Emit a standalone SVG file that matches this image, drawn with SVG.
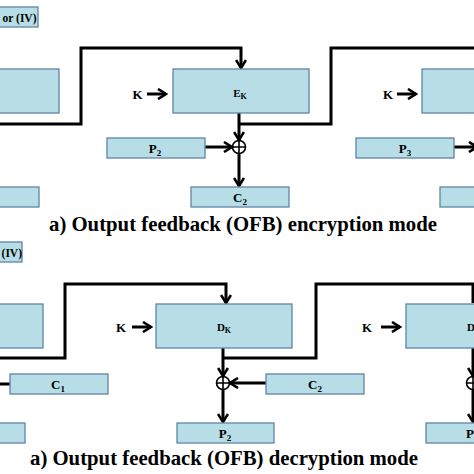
<svg xmlns="http://www.w3.org/2000/svg" width="474" height="474" viewBox="0 0 474 474">
<defs>
<style>
.box{fill:#b7dde6;stroke:#5f84a8;stroke-width:1.3}
.ln{fill:none;stroke:#000;stroke-width:3}
.arr{fill:none;stroke:#000;stroke-width:3;marker-end:url(#ah)}
.xor{fill:none;stroke:#000;stroke-width:1.6}
.lbl{font-family:"Liberation Serif","Times New Roman",serif;font-weight:bold;font-size:13px;text-anchor:middle;fill:#000}
.iv{font-family:"Liberation Serif","Times New Roman",serif;font-weight:bold;font-size:11.5px;text-anchor:end;fill:#000}
.blk{font-family:"Liberation Serif","Times New Roman",serif;font-weight:bold;font-size:11px;text-anchor:middle;fill:#000}
.k{font-family:"Liberation Serif","Times New Roman",serif;font-weight:bold;font-size:13px;text-anchor:middle;fill:#000}
.cap{font-family:"Liberation Serif","Times New Roman",serif;font-weight:bold;font-size:21px;fill:#000}
</style>
<marker id="ah" viewBox="0 0 12 12" refX="10" refY="6" markerWidth="12" markerHeight="12" markerUnits="userSpaceOnUse" orient="auto">
<path d="M2,1 L10,6 L2,11" fill="none" stroke="#000" stroke-width="2.6"/>
</marker>
</defs>

<g id="connectors">
<path class="arr" d="M0,124 H81 V48 H241 V68"/>
<path class="arr" d="M147,94 H166"/>
<path class="arr" d="M239,113 V140"/>
<path class="ln" d="M239,124 H331 V48 H474"/>
<path class="arr" d="M205,147 H232"/>
<path class="arr" d="M239,153.5 V186"/>
<path class="arr" d="M397,94 H416"/>
<path class="arr" d="M454,147 H477"/>
<path class="arr" d="M0,358 H65 V284 H226 V303"/>
<path class="arr" d="M132,327 H151"/>
<path class="arr" d="M223,348 V376"/>
<path class="ln" d="M223,358 H316 V284 H473 V303"/>
<path class="arr" d="M266,383 H230"/>
<path class="arr" d="M223,389.5 V422"/>
<path class="ln" d="M0,384 H10"/>
<path class="arr" d="M381,327 H400"/>
<path class="arr" d="M473,348 V376"/>
<path class="arr" d="M473,389.5 V422"/>
</g>

<g id="iv-top"><rect class="box" x="-5" y="7" width="43" height="20"/><text class="iv" x="36.5" y="21.5">or (IV)</text></g>
<g id="ek-prev"><rect class="box" x="-5" y="69" width="64" height="44"/></g>
<g id="c-prev"><rect class="box" x="-5" y="187" width="44" height="20"/></g>
<g id="ek2"><rect class="box" x="173" y="69" width="136" height="44"/><text class="blk" x="240" y="97">E<tspan font-size="8" dy="2">K</tspan></text></g>
<g id="k-top1"><text class="k" x="137.5" y="99">K</text></g>
<g id="xor-top1"><circle class="xor" cx="239" cy="147" r="6.5"/><path class="xor" d="M232.5,147 H245.5 M239,140.5 V153.5"/></g>
<g id="p2-top"><rect class="box" x="107" y="138" width="98" height="20"/><text class="lbl" x="155" y="153">P<tspan font-size="9" dy="3">2</tspan></text></g>
<g id="c2-top"><rect class="box" x="191" y="187" width="98" height="20"/><text class="lbl" x="240" y="202">C<tspan font-size="9" dy="3">2</tspan></text></g>
<g id="k-top2"><text class="k" x="388" y="99">K</text></g>
<g id="ek3"><rect class="box" x="422" y="69" width="60" height="44"/></g>
<g id="p3-top"><rect class="box" x="356" y="138" width="98" height="20"/><text class="lbl" x="405" y="153">P<tspan font-size="9" dy="3">3</tspan></text></g>
<g id="c3-top"><rect class="box" x="440" y="187" width="40" height="20"/></g>
<g id="cap-top"><text class="cap" x="49" y="231" textLength="388" lengthAdjust="spacingAndGlyphs">a) Output feedback (OFB) encryption mode</text></g>

<g id="iv-bot"><rect class="box" x="-5" y="242" width="27" height="20"/><text class="iv" x="22" y="256.5">(IV)</text></g>
<g id="dk-prev"><rect class="box" x="-5" y="304" width="48" height="44"/></g>
<g id="p-prev"><rect class="box" x="-5" y="423" width="30" height="20"/></g>
<g id="c1-bot"><rect class="box" x="10" y="374" width="98" height="20"/><text class="lbl" x="58" y="389">C<tspan font-size="9" dy="3">1</tspan></text></g>
<g id="k-bot1"><text class="k" x="121" y="332">K</text></g>
<g id="dk2"><rect class="box" x="156" y="304" width="136" height="44"/><text class="blk" x="224" y="331">D<tspan font-size="8" dy="2">K</tspan></text></g>
<g id="xor-bot1"><circle class="xor" cx="223" cy="383" r="6.5"/><path class="xor" d="M216.5,383 H229.5 M223,376.5 V389.5"/></g>
<g id="c2-bot"><rect class="box" x="266" y="374" width="98" height="20"/><text class="lbl" x="315" y="389">C<tspan font-size="9" dy="3">2</tspan></text></g>
<g id="p2-bot"><rect class="box" x="177" y="423" width="97" height="20"/><text class="lbl" x="225" y="438">P<tspan font-size="9" dy="3">2</tspan></text></g>
<g id="k-bot2"><text class="k" x="367" y="332">K</text></g>
<g id="dk3"><rect class="box" x="406" y="304" width="76" height="44"/><text class="blk" x="467" y="331" style="text-anchor:start">D</text></g>
<g id="xor-bot2"><circle class="xor" cx="473" cy="383" r="6.5"/><path class="xor" d="M466.5,383 H479.5 M473,376.5 V389.5"/></g>
<g id="p3-bot"><rect class="box" x="426" y="423" width="56" height="20"/><text class="lbl" x="466" y="438" style="text-anchor:start">P</text></g>
<g id="cap-bot"><text class="cap" x="30" y="465" textLength="388" lengthAdjust="spacingAndGlyphs">a) Output feedback (OFB) decryption mode</text></g>
</svg>
